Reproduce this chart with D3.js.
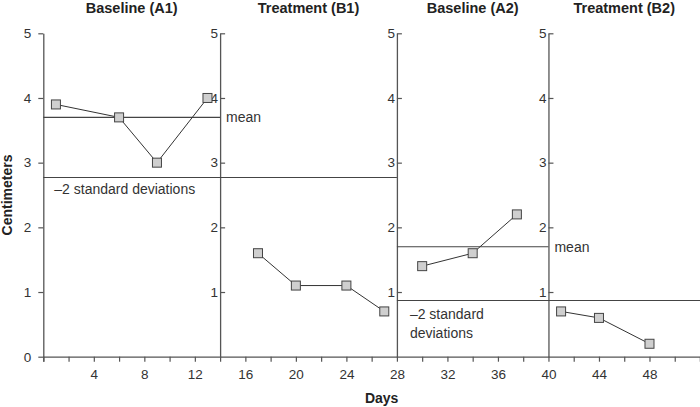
<!DOCTYPE html>
<html><head><meta charset="utf-8">
<script src="https://cdn.jsdelivr.net/npm/d3@7"></script>
<style>body{margin:0;background:#fff}svg{display:block}text{font-family:"Liberation Sans",Arial,Helvetica,sans-serif}</style>
</head><body><svg id="c" width="700" height="407"></svg>
<script>
// ---- data ----
const phaseNames = ["Baseline (A1)", "Treatment (B1)", "Baseline (A2)", "Treatment (B2)"];
const phaseStarts = [0, 14, 28, 40];
const phaseEnds = [14, 28, 40, 52];
const a1Days = [1, 6, 9, 13];
const a1Values = [3.9, 3.7, 3.0, 4.0];
const b1Days = [17, 20, 24, 27];
const b1Values = [1.6, 1.1, 1.1, 0.7];
const a2Days = [30, 34, 37.5];
const a2Values = [1.4, 1.6, 2.2];
const b2Days = [41, 44, 48];
const b2Values = [0.7, 0.6, 0.2];
const meanValues = [3.7, 1.7];
const meanFrom = [0, 28];
const meanTo = [14, 40];
const sdValues = [2.77, 0.87];
const sdFrom = [0, 28];
const sdTo = [28, 52];
const xTickLabels = [4, 8, 12, 16, 20, 24, 28, 32, 36, 40, 44, 48];
const yTicks = [0, 1, 2, 3, 4, 5];

const svg = d3.select("#c");
const x = d3.scaleLinear().domain([0, 52]).range([43.3, 700]);
const y = d3.scaleLinear().domain([0, 5]).range([356.7, 33.3]);
const axisCol = "#555";

// x axis
const xAxis = d3.axisBottom(x).tickValues(d3.range(0, 53, 2)).tickSize(5)
  .tickFormat(d => xTickLabels.includes(d) ? d : "");
const gx = svg.append("g").attr("transform", `translate(0,${y(0)})`).call(xAxis);
gx.select(".domain").attr("stroke", axisCol).attr("stroke-width", 1.3);
gx.selectAll(".tick line").attr("stroke", axisCol).attr("stroke-width", 1.2);
gx.selectAll(".tick text").attr("font-size", 13.5).attr("fill", "#333").attr("dy", "1.05em")
  .attr("font-family", '"Liberation Sans",Arial,sans-serif');

// y axes
phaseStarts.forEach((d, i) => {
  const first = i === 0;
  const ax = (first ? d3.axisLeft(y) : d3.axisRight(y))
    .tickValues(first ? yTicks : yTicks.slice(1)).tickFormat(d3.format("d"))
    .tickSize(5).tickSizeOuter(0);
  const g = svg.append("g").attr("transform", `translate(${x(d)},0)`).call(ax);
  g.select(".domain").attr("stroke", axisCol).attr("stroke-width", 1.3);
  g.selectAll(".tick line").attr("stroke", axisCol).attr("stroke-width", 1.2);
  const t = g.selectAll(".tick text").attr("font-size", 13.5).attr("fill", "#333")
    .attr("font-family", '"Liberation Sans",Arial,sans-serif');
  if (first) t.attr("x", -12);
  else t.attr("x", -2).attr("text-anchor", "end");
});

// phase titles
svg.selectAll(".ptitle").data(phaseNames).join("text")
  .attr("x", (d, i) => (x(phaseStarts[i]) + x(phaseEnds[i])) / 2)
  .attr("y", 13).attr("text-anchor", "middle").attr("font-weight", "bold")
  .attr("font-size", 14.5).attr("fill", "#222").text(d => d);

// reference lines
meanValues.forEach((v, i) => {
  svg.append("line").attr("x1", x(meanFrom[i])).attr("x2", x(meanTo[i]))
    .attr("y1", y(v)).attr("y2", y(v)).attr("stroke", "#444").attr("stroke-width", 1.1);
  svg.append("text").attr("x", x(meanTo[i]) + 6).attr("y", y(v)).attr("dy", "0.35em")
    .attr("font-size", 14).attr("fill", "#333").text("mean");
});
sdValues.forEach((v, i) => {
  svg.append("line").attr("x1", x(sdFrom[i])).attr("x2", x(sdTo[i]))
    .attr("y1", y(v)).attr("y2", y(v)).attr("stroke", "#444").attr("stroke-width", 1.1);
});
svg.append("text").attr("x", x(0) + 11).attr("y", y(sdValues[0]) + 16)
  .attr("font-size", 14).attr("fill", "#333").text("\u20132 standard deviations");
const t2 = svg.append("text").attr("x", x(28) + 13).attr("y", y(sdValues[1]) + 19)
  .attr("font-size", 14).attr("fill", "#333");
t2.append("tspan").attr("x", x(28) + 13).text("\u20132 standard");
t2.append("tspan").attr("x", x(28) + 13).attr("dy", 18.5).text("deviations");

// data series
const series = [[a1Days, a1Values], [b1Days, b1Values], [a2Days, a2Values], [b2Days, b2Values]];
const line = d3.line().x(d => x(d[0])).y(d => y(d[1]));
series.forEach(([ds, vs]) => {
  const pts = ds.map((d, i) => [d, vs[i]]);
  svg.append("path").attr("d", line(pts)).attr("fill", "none").attr("stroke", "#333").attr("stroke-width", 1);
  svg.selectAll(null).data(pts).join("rect")
    .attr("x", d => x(d[0]) - 4.5).attr("y", d => y(d[1]) - 4.5)
    .attr("width", 9).attr("height", 9).attr("fill", "#cfcfcf").attr("stroke", "#444").attr("stroke-width", 1);
});

// axis titles
svg.append("text").attr("x", (x(0) + x(52)) / 2 + 10).attr("y", 403).attr("text-anchor", "middle")
  .attr("font-weight", "bold").attr("font-size", 14).attr("fill", "#222").text("Days");
svg.append("text").attr("transform", `translate(12,${(y(0) + y(5)) / 2}) rotate(-90)`)
  .attr("text-anchor", "middle").attr("font-weight", "bold").attr("font-size", 14)
  .attr("fill", "#222").text("Centimeters");
</script></body></html>
